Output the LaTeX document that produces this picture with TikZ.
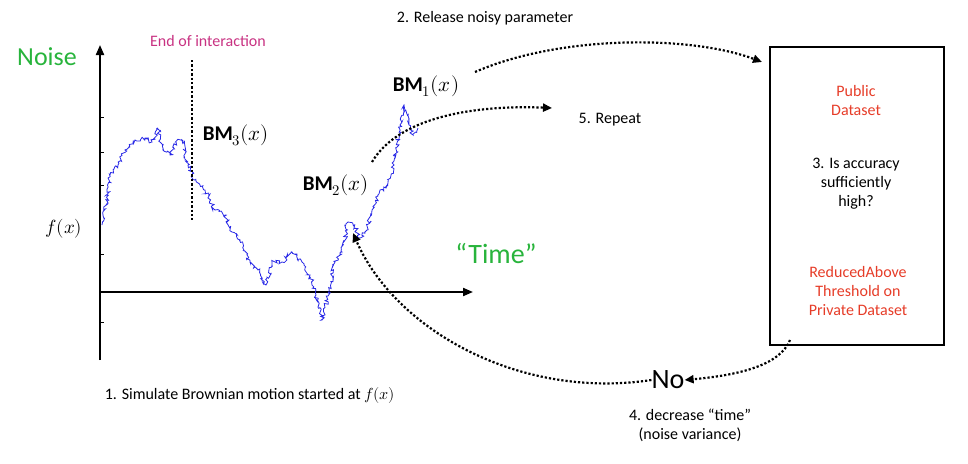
\documentclass[tikz,border=0pt]{standalone}
\usepackage{fontspec}
\setmainfont{Carlito}
\usepackage{unicode-math}
\setmathfont{Latin Modern Math}
\usetikzlibrary{decorations.pathmorphing,arrows.meta}
\definecolor{ngreen}{RGB}{40,180,60}
\definecolor{nmag}{RGB}{200,50,130}
\definecolor{nred}{RGB}{230,60,40}
\definecolor{bmblue}{RGB}{40,40,230}
\begin{document}
\begin{tikzpicture}[x=1pt,y=-1pt,
  lbl/.style={inner sep=0pt,font=\fontsize{16}{19}\selectfont,align=center},
  bm/.style={inner sep=0pt,font=\fontsize{21}{24}\selectfont},
  dotarr/.style={line width=2.2pt,dotted,-{Triangle[length=9pt,width=8pt]}},
  axis/.style={line width=2pt,-{Triangle[length=10pt,width=8pt]}}]
\useasboundingbox (0,0) rectangle (968,463);
\pgfmathsetseed{11}
% axes
\coordinate (o) at (100,292);
\coordinate (yt) at (100,45);
\coordinate (yb) at (100,360);
\coordinate (xt) at (473,292);
\draw[axis] (yb) -- (yt);
\draw[axis] (o) -- (xt);
\foreach \t in {117,152,185,254,322} \draw[line width=0.6pt] (100,\t) -- (104,\t);
% brownian path
\draw[bmblue,line width=0.8pt,decorate,decoration={random steps,segment length=1.6pt,amplitude=2.2pt}]
 (102,225) -- (106,205) -- (110,175) -- (118,165) -- (125,150) -- (135,140) -- (145,138) -- (152,142) -- (158,128) -- (163,150) -- (170,155) -- (176,142) -- (182,140) -- (188,165) -- (195,180) -- (205,190) -- (215,210) -- (225,215) -- (232,232) -- (240,240) -- (250,262) -- (258,270) -- (266,285) -- (272,262) -- (282,262) -- (292,252) -- (302,262) -- (310,275) -- (316,295) -- (322,320) -- (328,296) -- (335,262) -- (342,252) -- (348,222) -- (354,225) -- (360,238) -- (367,230) -- (372,210) -- (380,190) -- (386,188) -- (394,165) -- (400,125) -- (404,105) -- (409,125) -- (413,135) -- (418,128);
% end of interaction
\node[lbl,text=nmag] (eoi) at (208,41) {End of interaction};
\coordinate (d1) at (192,60);
\coordinate (d2) at (192,220);
\draw[line width=2.4pt,dotted] (d1) -- (d2);
% labels
\node[inner sep=0pt,text=ngreen,font=\fontsize{26}{30}\selectfont] (noise) at (47,57) {Noise};
\node[inner sep=0pt,text=ngreen,font=\fontsize{28}{32}\selectfont] (time) at (496,253) {“Time”};
\node[inner sep=0pt,font=\fontsize{19}{22}\selectfont] (fx) at (64,229) {$f(x)$};
\node[bm] (bm3) at (236,135) {$\mathbf{BM}_3(x)$};
\node[bm] (bm1) at (426,86) {$\mathbf{BM}_1(x)$};
\node[bm] (bm2) at (336,185) {$\mathbf{BM}_2(x)$};
\node[lbl] (s1) at (250,395) {1. Simulate Brownian motion started at $\boldsymbol{f(x)}$};
\node[lbl] (s2) at (485,18) {2. Release noisy parameter};
\node[lbl] (s5) at (610,120) {5. Repeat};
% box
\node[draw,line width=2pt,minimum width=174pt,minimum height=298pt,inner sep=0pt] (box) at (857,196) {};
\node[lbl,text=nred] (pub) at (856,101) {Public\\Dataset};
\node[lbl] (s3) at (856,184) {3. Is accuracy\\sufficiently\\high?};
\node[lbl,text=nred] (rat) at (858,291) {ReducedAbove\\Threshold on\\Private Dataset};
\node[inner sep=0pt,font=\fontsize{28}{32}\selectfont] (no) at (668,380) {No};
\node[lbl] (s4) at (690,425) {4. decrease “time”\\(noise variance)};
% arrows
\coordinate (a1s) at (475,72);
\coordinate (a1e) at (762,62);
\draw[dotarr] (a1s) .. controls (560,35) and (690,35) .. (a1e);
\coordinate (a2s) at (372,162);
\coordinate (a2e) at (552,108);
\draw[dotarr] (a2s) .. controls (400,115) and (480,105) .. (a2e);
\coordinate (a3s) at (790,340);
\draw[dotarr] (a3s) .. controls (780,365) and (740,375) .. (no.east);
\coordinate (a4e) at (353,233);
\draw[dotarr] (no.west) .. controls (520,400) and (395,330) .. (a4e);
\end{tikzpicture}
\end{document}
